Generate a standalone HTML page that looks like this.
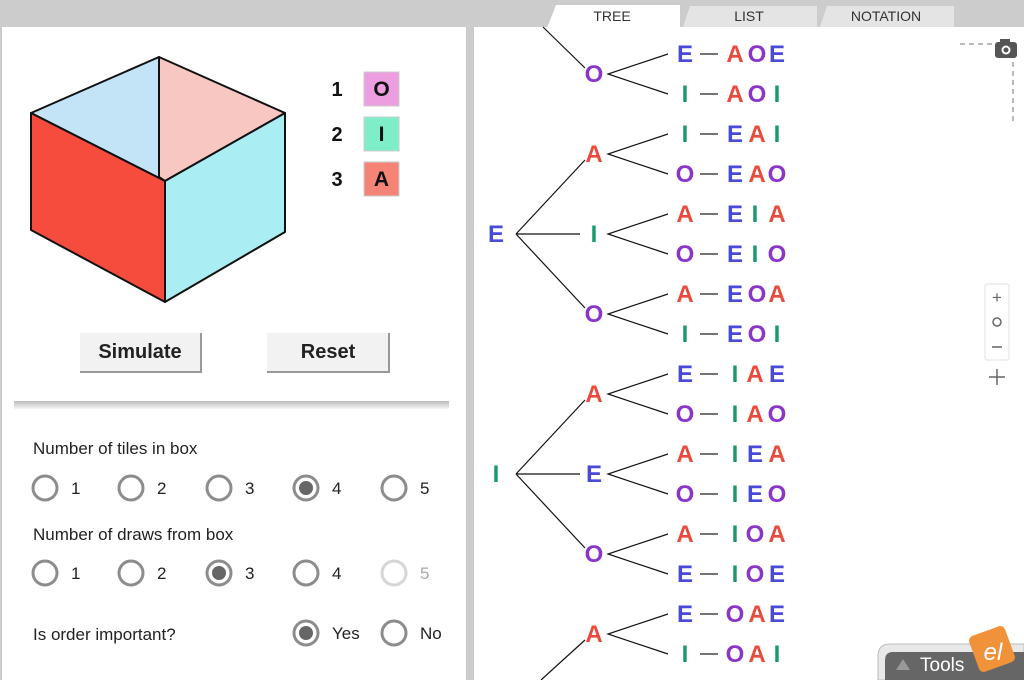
<!DOCTYPE html>
<html><head><meta charset="utf-8"><style>
html,body{margin:0;padding:0;background:#cccccc;width:1024px;height:680px;overflow:hidden}
svg{display:block}
text{font-family:"Liberation Sans",Arial,sans-serif}
.b{font-weight:bold;font-size:24px;text-anchor:middle}
.E{fill:#4a4ad8}.O{fill:#8a35c8}.I{fill:#1a9a6a}.A{fill:#ea4a3c}
.lbl{font-size:17px;fill:#222}
</style></head><body>
<svg width="1024" height="680" viewBox="0 0 1024 680" xmlns="http://www.w3.org/2000/svg">
<defs>
<linearGradient id="dv" x1="0" y1="0" x2="0" y2="1"><stop offset="0" stop-color="#bdbdbd"/><stop offset="1" stop-color="#f4f4f4"/></linearGradient>
</defs>
<rect width="1024" height="680" fill="#cccccc"/>
<!-- panels -->
<rect x="2" y="27" width="464" height="653" fill="#fff"/>
<rect x="474" y="27" width="550" height="653" fill="#fff"/>
<!-- tabs -->
<polygon points="547,28 556,5 680,5 680,28" fill="#ffffff"/>
<polygon points="683,27 690,6 817,6 817,27" fill="#e4e4e4"/>
<polygon points="820,27 827,6 954,6 954,27" fill="#e4e4e4"/>
<text x="612" y="21" font-size="14" fill="#333" text-anchor="middle">TREE</text>
<text x="749" y="21" font-size="14" fill="#333" text-anchor="middle">LIST</text>
<text x="886" y="21" font-size="14" fill="#333" text-anchor="middle">NOTATION</text>
<!-- cube -->
<g stroke="#111" stroke-width="2" stroke-linejoin="round">
<polygon points="31,113 159,57 159,177 165,181" fill="#c2e4f6"/>
<polygon points="159,57 285,113 165,181 159,177" fill="#f9c7c2"/>
<polygon points="31,113 165,181 165,302 31,230" fill="#f54c3e"/>
<polygon points="165,181 285,113 285,232 165,302" fill="#aaeef4"/>
</g>
<!-- tiles -->
<text x="337" y="96" font-size="20" font-weight="bold" text-anchor="middle" fill="#111">1</text>
<text x="337" y="141" font-size="20" font-weight="bold" text-anchor="middle" fill="#111">2</text>
<text x="337" y="186" font-size="20" font-weight="bold" text-anchor="middle" fill="#111">3</text>
<rect x="364" y="72" width="35" height="34" fill="#ec9ee0" stroke="#ccc"/>
<rect x="364" y="117" width="35" height="34" fill="#7eeec8" stroke="#ccc"/>
<rect x="364" y="162" width="35" height="34" fill="#f58477" stroke="#ccc"/>
<text x="381.5" y="96" font-size="21" font-weight="bold" text-anchor="middle" fill="#111">O</text>
<text x="381.5" y="141" font-size="21" font-weight="bold" text-anchor="middle" fill="#111">I</text>
<text x="381.5" y="186" font-size="21" font-weight="bold" text-anchor="middle" fill="#111">A</text>
<!-- buttons -->
<rect x="80" y="333" width="121" height="39" fill="#f2f2f2"/>
<path d="M80,372 H201 V333" stroke="#999" stroke-width="2" fill="none"/>
<rect x="267" y="333" width="122" height="39" fill="#f2f2f2"/>
<path d="M267,372 H389 V333" stroke="#999" stroke-width="2" fill="none"/>
<text x="140" y="358" font-size="20" font-weight="bold" text-anchor="middle" fill="#222">Simulate</text>
<text x="328" y="358" font-size="20" font-weight="bold" text-anchor="middle" fill="#222">Reset</text>
<rect x="14" y="401" width="435" height="8" fill="url(#dv)"/>
<!-- controls -->
<text class="lbl" x="33" y="454">Number of tiles in box</text>
<text class="lbl" x="33" y="540">Number of draws from box</text>
<text class="lbl" x="33" y="640">Is order important?</text>
<g fill="none" stroke="#8c8c8c" stroke-width="3">
<circle cx="45" cy="488" r="12"/><circle cx="131" cy="488" r="12"/><circle cx="219" cy="488" r="12"/><circle cx="306" cy="488" r="12"/><circle cx="394" cy="488" r="12"/>
<circle cx="45" cy="573" r="12"/><circle cx="131" cy="573" r="12"/><circle cx="219" cy="573" r="12"/><circle cx="306" cy="573" r="12"/><circle cx="394" cy="573" r="12" stroke="#d6d6d6"/>
<circle cx="306" cy="633" r="12"/><circle cx="394" cy="633" r="12"/>
</g>
<g fill="#666"><circle cx="306" cy="488" r="7"/><circle cx="219" cy="573" r="7"/><circle cx="306" cy="633" r="7"/></g>
<g class="lbl">
<text x="71" y="494">1</text><text x="157" y="494">2</text><text x="245" y="494">3</text><text x="332" y="494">4</text><text x="420" y="494">5</text>
<text x="71" y="579">1</text><text x="157" y="579">2</text><text x="245" y="579">3</text><text x="332" y="579">4</text><text x="420" y="579" fill="#aaa">5</text>
<text x="332" y="639">Yes</text><text x="420" y="639">No</text>
</g>
<!-- tree lines -->
<g stroke="#111" stroke-width="1.2" fill="none">
<line x1="543" y1="27" x2="585" y2="68"/>
<line x1="516" y1="234" x2="585" y2="160"/>
<line x1="516" y1="234" x2="580" y2="234"/>
<line x1="516" y1="234" x2="585" y2="308"/>
<line x1="516" y1="474" x2="585" y2="400"/>
<line x1="516" y1="474" x2="580" y2="474"/>
<line x1="516" y1="474" x2="585" y2="548"/>
<line x1="585" y1="640" x2="541" y2="680"/>
<path d="M668,54 L608,74 L668,94"/>
<path d="M668,134 L608,154 L668,174"/>
<path d="M668,214 L608,234 L668,254"/>
<path d="M668,294 L608,314 L668,334"/>
<path d="M668,374 L608,394 L668,414"/>
<path d="M668,454 L608,474 L668,494"/>
<path d="M668,534 L608,554 L668,574"/>
<path d="M668,614 L608,634 L668,654"/>
<g stroke="#222">
<line x1="700" y1="54" x2="718" y2="54"/><line x1="700" y1="94" x2="718" y2="94"/><line x1="700" y1="134" x2="718" y2="134"/><line x1="700" y1="174" x2="718" y2="174"/>
<line x1="700" y1="214" x2="718" y2="214"/><line x1="700" y1="254" x2="718" y2="254"/><line x1="700" y1="294" x2="718" y2="294"/><line x1="700" y1="334" x2="718" y2="334"/>
<line x1="700" y1="374" x2="718" y2="374"/><line x1="700" y1="414" x2="718" y2="414"/><line x1="700" y1="454" x2="718" y2="454"/><line x1="700" y1="494" x2="718" y2="494"/>
<line x1="700" y1="534" x2="718" y2="534"/><line x1="700" y1="574" x2="718" y2="574"/><line x1="700" y1="614" x2="718" y2="614"/><line x1="700" y1="654" x2="718" y2="654"/>
</g>
</g>
<!-- tree nodes -->
<g class="b">
<text x="496" y="242" class="b E">E</text>
<text x="496" y="482" class="b I">I</text>
<text x="594" y="82" class="b O">O</text>
<text x="594" y="162" class="b A">A</text>
<text x="594" y="242" class="b I">I</text>
<text x="594" y="322" class="b O">O</text>
<text x="594" y="402" class="b A">A</text>
<text x="594" y="482" class="b E">E</text>
<text x="594" y="562" class="b O">O</text>
<text x="594" y="642" class="b A">A</text>
</g>
<g>
<text y="62" class="b"><tspan x="685" class="E">E</tspan><tspan x="735" class="A">A</tspan><tspan x="757" class="O">O</tspan><tspan x="777" class="E">E</tspan></text>
<text y="102" class="b"><tspan x="685" class="I">I</tspan><tspan x="735" class="A">A</tspan><tspan x="757" class="O">O</tspan><tspan x="777" class="I">I</tspan></text>
<text y="142" class="b"><tspan x="685" class="I">I</tspan><tspan x="735" class="E">E</tspan><tspan x="757" class="A">A</tspan><tspan x="777" class="I">I</tspan></text>
<text y="182" class="b"><tspan x="685" class="O">O</tspan><tspan x="735" class="E">E</tspan><tspan x="757" class="A">A</tspan><tspan x="777" class="O">O</tspan></text>
<text y="222" class="b"><tspan x="685" class="A">A</tspan><tspan x="735" class="E">E</tspan><tspan x="755" class="I">I</tspan><tspan x="777" class="A">A</tspan></text>
<text y="262" class="b"><tspan x="685" class="O">O</tspan><tspan x="735" class="E">E</tspan><tspan x="755" class="I">I</tspan><tspan x="777" class="O">O</tspan></text>
<text y="302" class="b"><tspan x="685" class="A">A</tspan><tspan x="735" class="E">E</tspan><tspan x="757" class="O">O</tspan><tspan x="777" class="A">A</tspan></text>
<text y="342" class="b"><tspan x="685" class="I">I</tspan><tspan x="735" class="E">E</tspan><tspan x="757" class="O">O</tspan><tspan x="777" class="I">I</tspan></text>
<text y="382" class="b"><tspan x="685" class="E">E</tspan><tspan x="735" class="I">I</tspan><tspan x="755" class="A">A</tspan><tspan x="777" class="E">E</tspan></text>
<text y="422" class="b"><tspan x="685" class="O">O</tspan><tspan x="735" class="I">I</tspan><tspan x="755" class="A">A</tspan><tspan x="777" class="O">O</tspan></text>
<text y="462" class="b"><tspan x="685" class="A">A</tspan><tspan x="735" class="I">I</tspan><tspan x="755" class="E">E</tspan><tspan x="777" class="A">A</tspan></text>
<text y="502" class="b"><tspan x="685" class="O">O</tspan><tspan x="735" class="I">I</tspan><tspan x="755" class="E">E</tspan><tspan x="777" class="O">O</tspan></text>
<text y="542" class="b"><tspan x="685" class="A">A</tspan><tspan x="735" class="I">I</tspan><tspan x="755" class="O">O</tspan><tspan x="777" class="A">A</tspan></text>
<text y="582" class="b"><tspan x="685" class="E">E</tspan><tspan x="735" class="I">I</tspan><tspan x="755" class="O">O</tspan><tspan x="777" class="E">E</tspan></text>
<text y="622" class="b"><tspan x="685" class="E">E</tspan><tspan x="735" class="O">O</tspan><tspan x="757" class="A">A</tspan><tspan x="777" class="E">E</tspan></text>
<text y="662" class="b"><tspan x="685" class="I">I</tspan><tspan x="735" class="O">O</tspan><tspan x="757" class="A">A</tspan><tspan x="777" class="I">I</tspan></text>
</g>
<!-- camera and dashes -->
<path d="M960,44 H994" stroke="#bbb" stroke-width="2" stroke-dasharray="5,4"/>
<path d="M1013,62 V125" stroke="#bbb" stroke-width="2" stroke-dasharray="5,4"/>
<rect x="995" y="42" width="22" height="16" rx="3" fill="#555"/>
<rect x="1000" y="39" width="10" height="5" fill="#555"/>
<circle cx="1006" cy="50" r="4.5" fill="#fff"/><circle cx="1006" cy="50" r="2.5" fill="#555"/>
<!-- zoom control -->
<rect x="985" y="284" width="24" height="76" rx="2" fill="#fff" stroke="#e0e0e0"/>
<text x="997" y="303" font-size="17" text-anchor="middle" fill="#666">+</text>
<circle cx="997" cy="322" r="4" fill="none" stroke="#666" stroke-width="1.5"/>
<line x1="992" y1="347" x2="1002" y2="347" stroke="#666" stroke-width="1.5"/>
<g stroke="#666" stroke-width="1.5"><line x1="989" y1="377" x2="1005" y2="377"/><line x1="997" y1="369" x2="997" y2="385"/></g>
<!-- tools -->
<path d="M878,680 V656 Q878,644 890,644 H1024 V680 Z" fill="#e8e8e8" stroke="#bbb"/>
<path d="M885,680 V660 Q885,652 893,652 H1024 V680 Z" fill="#666"/>
<polygon points="896,670 903,659 910,670" fill="#999"/>
<text x="920" y="671" font-size="19" fill="#fff">Tools</text>
<rect x="973" y="630" width="38" height="38" rx="5" fill="#f0923a" transform="rotate(-20 992 649)"/>
<text x="993" y="660" font-size="24" font-style="italic" fill="#fff" text-anchor="middle">el</text>
</svg>
</body></html>
